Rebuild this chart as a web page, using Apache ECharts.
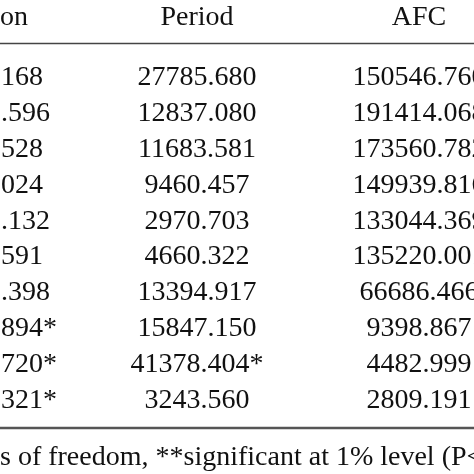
<!DOCTYPE html>
<html><head><meta charset="utf-8">
<script src="https://cdn.jsdelivr.net/npm/echarts@6/dist/echarts.min.js"></script>
<style>html,body{margin:0;padding:0;background:#fff}#c{width:474px;height:474px}</style>
</head><body><div id="c"></div>
<script>
const headers = ['on', 'Period', 'AFC'];
const col1 = ['168', '.596', '528', '024', '.132', '591', '.398', '894*', '720*', '321*'];
const period = ['27785.680', '12837.080', '11683.581', '9460.457', '2970.703', '4660.322', '13394.917', '15847.150', '41378.404*', '3243.560'];
const afc = ['150546.760', '191414.068', '173560.782', '149939.816', '133044.369', '135220.001', '66686.466', '9398.867', '4482.999', '2809.191'];
const footnote = 's of freedom, **significant at 1% level (P<0.01)';

const font = '"Liberation Serif", "DejaVu Serif", serif';
const fs = 28;
const chart = echarts.init(document.getElementById('c'));
const els = [];
function txt(s, x, y, align) {
  els.push({type: 'text', x: x, y: y, style: {text: s, fill: '#111', font: fs + 'px ' + font, align: align, verticalAlign: 'middle'}});
}
txt(headers[0], 0, 18, 'left');
txt(headers[1], 197, 18, 'center');
txt(headers[2], 419, 18, 'center');
els.push({type: 'line', shape: {x1: 0, y1: 43.5, x2: 474, y2: 43.5}, style: {stroke: '#444', lineWidth: 1.5}});
const y0 = 78, dy = 35.8;
col1.forEach((s, i) => {
  const y = y0 + i * dy;
  txt(s, 1, y, 'left');
  txt(period[i], 197, y, 'center');
  txt(afc[i], 419, y, 'center');
});
els.push({type: 'line', shape: {x1: 0, y1: 428, x2: 474, y2: 428}, style: {stroke: '#555', lineWidth: 2.5}});
txt(footnote, 0, 458, 'left');
chart.setOption({animation: false, graphic: els});
</script></body></html>
